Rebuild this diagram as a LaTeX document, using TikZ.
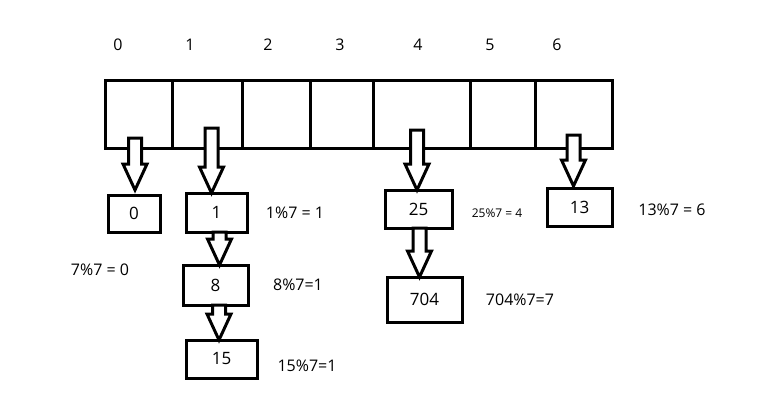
\documentclass[tikz,border=0pt]{standalone}
\usepackage{fontspec}
\setmainfont{Open Sans}
\begin{document}
\begin{tikzpicture}[x=1pt,y=-1pt,
  box/.style={draw,line width=3pt,inner sep=0pt,font=\fontsize{17}{20}\selectfont},
  lbl/.style={font=\fontsize{16}{19}\selectfont},
  cell/.style={line width=3pt}]
\useasboundingbox (0,0) rectangle (761,402);
\newcommand\barrow[3]{% xcenter, ytop, ytip
  \draw[line width=3pt,line join=miter,fill=white] (#1-6.5,#2) -- (#1+6.5,#2) -- (#1+6.5,#3-26) -- (#1+12,#3-26) -- (#1,#3) -- (#1-12,#3-26) -- (#1-6.5,#3-26) -- cycle;}
% indices
\foreach \i/\x in {0/118,1/190,2/268,3/340,4/418,5/490,6/557}
  \node[lbl] (idx\i) at (\x,45) {\i};
% array
\draw[cell] (105,80) rectangle (612,148);
\foreach \x in {172,242,310,373,470,535} \draw[cell] (\x,80) -- (\x,148);
% boxes
\node[box,minimum width=52pt,minimum height=37pt] (b0) at (134,213.5) {0};
\node[box,minimum width=61pt,minimum height=39pt] (b1) at (216.5,212.5) {1};
\node[box,minimum width=65pt,minimum height=40pt] (b8) at (215.5,285) {8};
\node[box,minimum width=71pt,minimum height=38pt] (b15) at (221.5,359) {15};
\node[box,minimum width=67pt,minimum height=38pt] (b25) at (418.5,209) {25};
\node[box,minimum width=75pt,minimum height=45pt] (b704) at (424.5,299.5) {704};
\node[box,minimum width=65pt,minimum height=38pt] (b13) at (579.5,207) {13};
% arrows
\barrow{135}{138}{190}
\barrow{211.5}{128}{193}
\barrow{417}{130}{190}
\barrow{573.5}{135}{186}
\barrow{219.5}{232}{265}
\barrow{219}{305}{340}
\barrow{419.5}{228}{277}
% labels
\node[lbl] (l0) at (100,270) {7\%7 = 0};
\node[lbl] (l1) at (295,213) {1\%7 = 1};
\node[lbl] (l8) at (298,285) {8\%7=1};
\node[lbl] (l15) at (307,366) {15\%7=1};
\node[font=\fontsize{12}{14}\selectfont] (l25) at (497,213) {25\%7 = 4};
\node[lbl] (l704) at (520,300) {704\%7=7};
\node[lbl] (l13) at (672,210) {13\%7 = 6};
\end{tikzpicture}
\end{document}
